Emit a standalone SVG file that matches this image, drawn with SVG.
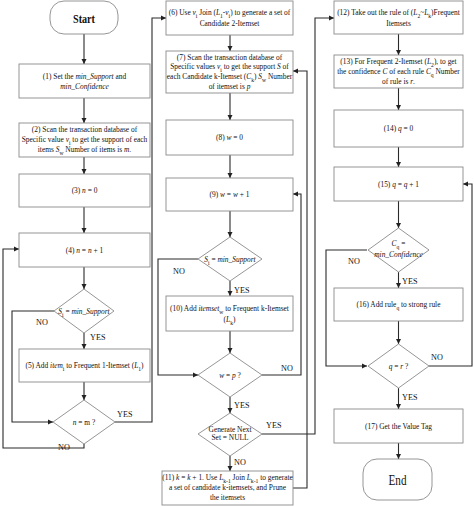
<svg xmlns="http://www.w3.org/2000/svg" width="474" height="506" viewBox="0 0 474 506">
<style>
.bx{fill:#fff;stroke:#8a8a8a;stroke-width:0.9}
.dm{fill:#fff;stroke:#8a8a8a;stroke-width:0.9}
.ln{fill:none;stroke:#2a2a2a;stroke-width:1.1}
.t{font-family:"Liberation Serif","Times New Roman",serif;font-size:7.4px;fill:#111;text-anchor:middle}
.s{font-size:5.6px}
.lb{font-family:"Liberation Serif","Times New Roman",serif;font-size:8.2px;fill:#111}
.i{font-style:italic}
.big{font-family:"Liberation Serif","Times New Roman",serif;fill:#111;text-anchor:middle}
</style>
<defs>
<marker id="ah" markerWidth="6" markerHeight="6" refX="5" refY="3" orient="auto" markerUnits="userSpaceOnUse">
<path d="M0,0.5 L5,3 L0,5.5 Z" fill="#222"/>
</marker>
</defs>
<rect width="474" height="506" fill="#fff"/>

<g id="connectors">
<!-- column 1 -->
<line class="ln" x1="84" y1="34" x2="84" y2="64" marker-end="url(#ah)"/>
<line class="ln" x1="84" y1="98" x2="84" y2="123" marker-end="url(#ah)"/>
<line class="ln" x1="84" y1="157" x2="84" y2="174" marker-end="url(#ah)"/>
<line class="ln" x1="84" y1="207" x2="84" y2="233" marker-end="url(#ah)"/>
<line class="ln" x1="84" y1="267" x2="84" y2="289" marker-end="url(#ah)"/>
<line class="ln" x1="84" y1="333" x2="84" y2="349" marker-end="url(#ah)"/>
<line class="ln" x1="84" y1="382" x2="84" y2="400" marker-end="url(#ah)"/>
<polyline class="ln" points="54,311 12,311 12,422 53,422" marker-end="url(#ah)"/>
<polyline class="ln" points="84,444 84,448 3,448 3,249 19,249" marker-end="url(#ah)"/>
<polyline class="ln" points="115,422 152,422 152,18 166,18" marker-end="url(#ah)"/>
<!-- column 2 -->
<line class="ln" x1="230" y1="35" x2="230" y2="51" marker-end="url(#ah)"/>
<line class="ln" x1="230" y1="93" x2="230" y2="120" marker-end="url(#ah)"/>
<line class="ln" x1="230" y1="155" x2="230" y2="178" marker-end="url(#ah)"/>
<line class="ln" x1="230" y1="211" x2="230" y2="237" marker-end="url(#ah)"/>
<line class="ln" x1="230" y1="281" x2="230" y2="296" marker-end="url(#ah)"/>
<line class="ln" x1="230" y1="331" x2="230" y2="353" marker-end="url(#ah)"/>
<line class="ln" x1="230" y1="397" x2="230" y2="413" marker-end="url(#ah)"/>
<line class="ln" x1="230" y1="456" x2="230" y2="471" marker-end="url(#ah)"/>
<polyline class="ln" points="198,259 158,259 158,375 198,375" marker-end="url(#ah)"/>
<polyline class="ln" points="262,375 301,375 301,194 293,194" marker-end="url(#ah)"/>
<polyline class="ln" points="293,488 307,488 307,71 293,71" marker-end="url(#ah)"/>
<polyline class="ln" points="262,434 315,434 315,18 334,18" marker-end="url(#ah)"/>
<!-- column 3 -->
<line class="ln" x1="398.5" y1="34" x2="398.5" y2="55" marker-end="url(#ah)"/>
<line class="ln" x1="398.5" y1="88" x2="398.5" y2="110" marker-end="url(#ah)"/>
<line class="ln" x1="398.5" y1="147" x2="398.5" y2="167" marker-end="url(#ah)"/>
<line class="ln" x1="398.5" y1="201" x2="398.5" y2="228" marker-end="url(#ah)"/>
<line class="ln" x1="398.5" y1="272" x2="398.5" y2="288" marker-end="url(#ah)"/>
<line class="ln" x1="398.5" y1="321" x2="398.5" y2="344" marker-end="url(#ah)"/>
<line class="ln" x1="398.5" y1="388" x2="398.5" y2="409" marker-end="url(#ah)"/>
<line class="ln" x1="398.5" y1="443" x2="398.5" y2="459" marker-end="url(#ah)"/>
<polyline class="ln" points="367,250 326,250 326,366 367,366" marker-end="url(#ah)"/>
<polyline class="ln" points="429,366 472,366 472,184 463,184" marker-end="url(#ah)"/>

<g class="lb">
<text x="36" y="325">NO</text>
<text x="90" y="340">YES</text>
<text x="117" y="417">YES</text>
<text x="58" y="450">NO</text>
<text x="173" y="274">NO</text>
<text x="234" y="293">YES</text>
<text x="281" y="371">NO</text>
<text x="234" y="408">YES</text>
<text x="266" y="428">YES</text>
<text x="234" y="465">NO</text>
<text x="348" y="264">NO</text>
<text x="402" y="284">YES</text>
<text x="431" y="360">NO</text>
<text x="402" y="400">YES</text>
</g>
</g>

<!-- column 1 nodes -->
<g id="start">
<rect class="bx" x="50" y="1" width="68" height="33" rx="14"/>
<text class="big" x="84" y="22.5" font-size="13" font-weight="bold" textLength="22" lengthAdjust="spacingAndGlyphs">Start</text>
</g>
<g id="n1">
<rect class="bx" x="19" y="64" width="131" height="34"/>
<text class="t" x="84.5" y="79">(1) Set the <tspan class="i">min_Support</tspan> and</text>
<text class="t" x="84.5" y="89"><tspan class="i">min_Confidence</tspan></text>
</g>
<g id="n2">
<rect class="bx" x="19" y="123" width="131" height="34"/>
<text class="t" x="84.5" y="132">(2) Scan the transaction database of</text>
<text class="t" x="84.5" y="141.5">Specific value <tspan class="i">v</tspan><tspan class="s" baseline-shift="sub">i</tspan>  to get the support of each</text>
<text class="t" x="84.5" y="152">items <tspan class="i">S</tspan><tspan class="s" baseline-shift="sub">w</tspan> Number of items is <tspan class="i">m</tspan>.</text>
</g>
<g id="n3">
<rect class="bx" x="19" y="174" width="131" height="33"/>
<text class="t" x="84.5" y="193">(3) <tspan class="i">n</tspan> = 0</text>
</g>
<g id="n4">
<rect class="bx" x="19" y="233" width="131" height="34"/>
<text class="t" x="84.5" y="252.5">(4) <tspan class="i">n</tspan> = <tspan class="i">n</tspan> + 1</text>
</g>
<g id="d1">
<polygon class="dm" points="84,289 114,311 84,333 54,311"/>
<text class="t" x="84" y="313.5" font-size="6.2"><tspan class="i">S</tspan><tspan class="s" baseline-shift="sub" font-size="4.6">i</tspan>  = <tspan class="i">min_Support</tspan></text>
</g>
<g id="n5">
<rect class="bx" x="19" y="349" width="131" height="33"/>
<text class="t" x="84.5" y="368">(5) Add <tspan class="i">item</tspan><tspan class="s" baseline-shift="sub">i</tspan> to Frequent 1-Itemset (<tspan class="i">L</tspan><tspan class="s" baseline-shift="sub">1</tspan>)</text>
</g>
<g id="d2">
<polygon class="dm" points="84,400 115,422 84,444 53,422"/>
<text class="t" x="84" y="424.5" font-size="6.2"><tspan class="i">n</tspan> = m ?</text>
</g>

<!-- column 2 nodes -->
<g id="n6">
<rect class="bx" x="166" y="1" width="127" height="34"/>
<text class="t" x="229.5" y="15">(6) Use <tspan class="i">v</tspan><tspan class="s" baseline-shift="sub">i</tspan> Join (<tspan class="i">L</tspan><tspan class="s" baseline-shift="sub">1</tspan>-<tspan class="i">v</tspan><tspan class="s" baseline-shift="sub">i</tspan>) to generate a set of</text>
<text class="t" x="229.5" y="26">Candidate 2-Itemset</text>
</g>
<g id="n7">
<rect class="bx" x="166" y="51" width="127" height="42"/>
<text class="t" x="229.5" y="59.5">(7) Scan the transaction database of</text>
<text class="t" x="229.5" y="69">Specific values <tspan class="i">v</tspan><tspan class="s" baseline-shift="sub">i</tspan> to get the support <tspan class="i">S</tspan> of</text>
<text class="t" x="229.5" y="79">each Candidate k-Itemset (<tspan class="i">C</tspan><tspan class="s" baseline-shift="sub">k</tspan>) <tspan class="i">S</tspan><tspan class="s" baseline-shift="sub">w</tspan> Number</text>
<text class="t" x="229.5" y="89">of itemset is <tspan class="i">p</tspan></text>
</g>
<g id="n8">
<rect class="bx" x="166" y="120" width="127" height="35"/>
<text class="t" x="229.5" y="140">(8) <tspan class="i">w</tspan> = 0</text>
</g>
<g id="n9">
<rect class="bx" x="166" y="178" width="127" height="33"/>
<text class="t" x="229.5" y="197">(9) <tspan class="i">w</tspan> = <tspan class="i">w</tspan> + 1</text>
</g>
<g id="d3">
<polygon class="dm" points="230,237 262,259 230,281 198,259"/>
<text class="t" x="230" y="261.5" font-size="6.2"><tspan class="i">S</tspan><tspan class="s" baseline-shift="sub" font-size="4.6">i</tspan>  = <tspan class="i">min_Support</tspan></text>
</g>
<g id="n10">
<rect class="bx" x="166" y="296" width="127" height="35"/>
<text class="t" x="229.5" y="310.5">(10) Add <tspan class="i">itemset</tspan><tspan class="s" baseline-shift="sub">w</tspan> to Frequent k-Itemset</text>
<text class="t" x="229.5" y="321.5">(<tspan class="i">L</tspan><tspan class="s" baseline-shift="sub">k</tspan>)</text>
</g>
<g id="d4">
<polygon class="dm" points="230,353 262,375 230,397 198,375"/>
<text class="t" x="230" y="377.5" font-size="6.2"><tspan class="i">w</tspan> = <tspan class="i">p</tspan> ?</text>
</g>
<g id="d5">
<polygon class="dm" points="230,413 262,434 230,456 198,434"/>
<text class="t" x="230" y="432" font-size="6">Generate Next</text>
<text class="t" x="230" y="440" font-size="6">Set = NULL</text>
</g>
<g id="n11">
<rect class="bx" x="162" y="471" width="131" height="34"/>
<text class="t" x="227.5" y="480">(11) <tspan class="i">k</tspan> = <tspan class="i">k</tspan> + 1. Use <tspan class="i">L</tspan><tspan class="s" baseline-shift="sub">k-1</tspan> Join <tspan class="i">L</tspan><tspan class="s" baseline-shift="sub">k-1</tspan> to generate</text>
<text class="t" x="227.5" y="490">a set of candidate k-itemsets, and Prune</text>
<text class="t" x="227.5" y="499.5">the itemsets</text>
</g>

<!-- column 3 nodes -->
<g id="n12">
<rect class="bx" x="334" y="1" width="129" height="33"/>
<text class="t" x="398.5" y="15">(12) Take out the rule of (<tspan class="i">L</tspan><tspan class="s" baseline-shift="sub">2</tspan>~<tspan class="i">L</tspan><tspan class="s" baseline-shift="sub">k</tspan>)Frequent</text>
<text class="t" x="398.5" y="26">Itemsets</text>
</g>
<g id="n13">
<rect class="bx" x="334" y="55" width="129" height="33"/>
<text class="t" x="398.5" y="64">(13) For Frequent 2-Itemset (<tspan class="i">L</tspan><tspan class="s" baseline-shift="sub">2</tspan>),  to get</text>
<text class="t" x="398.5" y="74">the confidence <tspan class="i">C</tspan>  of each rule <tspan class="i">C</tspan><tspan class="s" baseline-shift="sub">q</tspan> Number</text>
<text class="t" x="398.5" y="84">of rule is <tspan class="i">r</tspan>.</text>
</g>
<g id="n14">
<rect class="bx" x="334" y="110" width="129" height="37"/>
<text class="t" x="398.5" y="131">(14) <tspan class="i">q</tspan> = 0</text>
</g>
<g id="n15">
<rect class="bx" x="334" y="167" width="129" height="34"/>
<text class="t" x="398.5" y="186.5">(15) <tspan class="i">q</tspan> = <tspan class="i">q</tspan> + 1</text>
</g>
<g id="d6">
<polygon class="dm" points="398.5,228 429,250 398.5,272 368,250"/>
<text class="t" x="398.5" y="246" font-size="6.2"><tspan class="i">C</tspan><tspan class="s" baseline-shift="sub" font-size="4.4">q</tspan> =</text>
<text class="t" x="398.5" y="257" font-size="6"><tspan class="i">min_Confidence</tspan></text>
</g>
<g id="n16">
<rect class="bx" x="334" y="288" width="129" height="33"/>
<text class="t" x="398.5" y="307">(16) Add rule<tspan class="s" baseline-shift="sub">q</tspan> to strong rule</text>
</g>
<g id="d7">
<polygon class="dm" points="398.5,344 429,366 398.5,388 368,366"/>
<text class="t" x="398.5" y="368.5" font-size="6.2"><tspan class="i">q</tspan> = <tspan class="i">r</tspan> ?</text>
</g>
<g id="n17">
<rect class="bx" x="334" y="409" width="129" height="34"/>
<text class="t" x="398.5" y="428.5">(17) Get the Value Tag</text>
</g>
<g id="end">
<rect class="bx" x="363" y="459" width="69" height="41" rx="14"/>
<text class="big" x="397.5" y="484.5" font-size="15" textLength="18" lengthAdjust="spacingAndGlyphs">End</text>
</g>
</svg>
